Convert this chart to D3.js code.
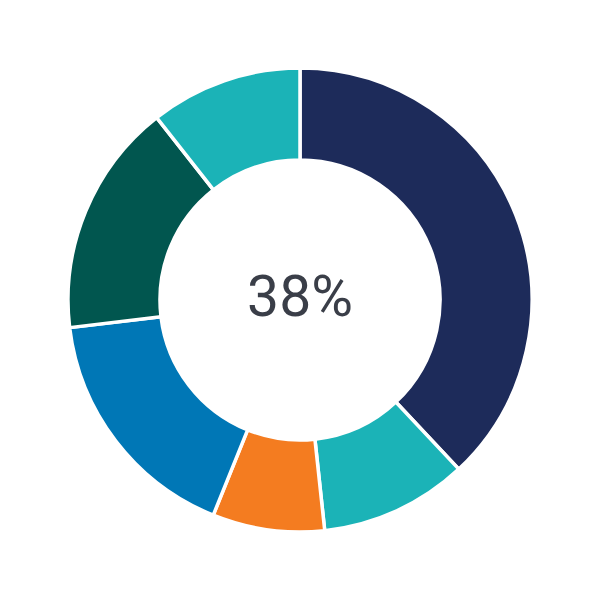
<!DOCTYPE html>
<html>
<head>
<meta charset="utf-8">
<script src="https://cdn.jsdelivr.net/npm/d3@7"></script>
<style>
  body { margin: 0; background: #fff; }
</style>
</head>
<body>
<svg id="chart" width="600" height="600"></svg>
<script>
// Дані сегментів (за годинниковою стрілкою від 12 години)
const categories = ["A", "B", "C", "D", "E", "F"];
const values = [38, 10.3, 7.8, 17, 16.3, 10.6];
const colors = ["#1d2b5a", "#1bb3b7", "#f47c20", "#0077b6", "#01564f", "#1bb3b7"];
const centerLabel = "38%";

const svg = d3.select("#chart");
const width = +svg.attr("width");
const height = +svg.attr("height");
const outerRadius = 232;
const innerRadius = 140;

const g = svg.append("g")
  .attr("transform", `translate(${width / 2},${height / 2})`);

const pie = d3.pie().sort(null).value((d) => d.value);
const arc = d3.arc().innerRadius(innerRadius).outerRadius(outerRadius);

const data = categories.map((c, i) => ({ name: c, value: values[i], color: colors[i] }));

g.selectAll("path")
  .data(pie(data))
  .join("path")
  .attr("d", arc)
  .attr("fill", (d) => d.data.color)
  .attr("stroke", "#fff")
  .attr("stroke-width", 3.5);

// Підпис у центрі
g.append("text")
  .attr("text-anchor", "middle")
  .attr("y", 16)
  .attr("font-family", "Roboto, sans-serif")
  .attr("font-size", 57)
  .attr("fill", "#3a3e48")
  .text(centerLabel);
</script>
</body>
</html>
